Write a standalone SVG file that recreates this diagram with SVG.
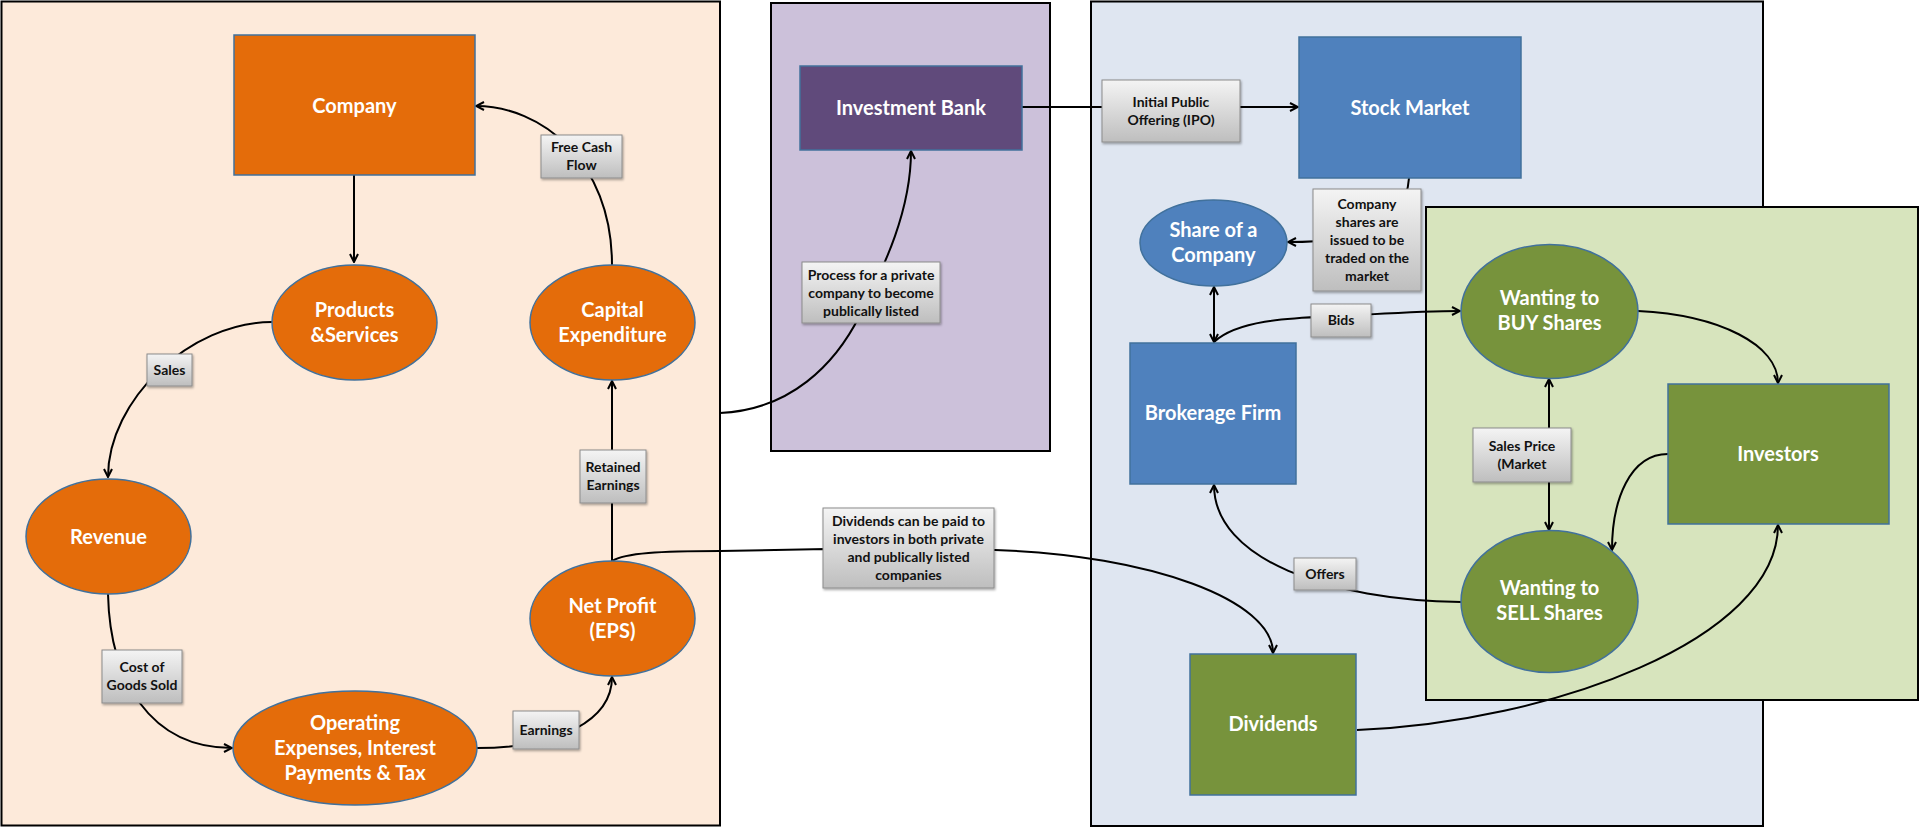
<svg xmlns="http://www.w3.org/2000/svg" width="1920" height="827" viewBox="0 0 1920 827">
<defs>
<style>
.panel{stroke:#000;stroke-width:2}
.node{stroke:#41719C;stroke-width:1.5}
.org{fill:#E46C0A}
.blu{fill:#4F81BD}
.grn{fill:#77933C}
.pur{fill:#604A7B}
.nt{font-family:Lato,"Open Sans",sans-serif;font-weight:bold;font-size:20px;fill:#fff;text-anchor:middle}
.lbl{fill:url(#lg);stroke:#8C8C8C;stroke-width:1;filter:url(#sh)}
.lt{font-family:Lato,"Open Sans",sans-serif;font-weight:bold;font-size:14px;fill:#111;text-anchor:middle}
.c{fill:none;stroke:#000;stroke-width:2}
</style>
<linearGradient id="lg" x1="0" y1="0" x2="0" y2="1">
<stop offset="0" stop-color="#F4F4F4"/>
<stop offset="1" stop-color="#BEBEBE"/>
</linearGradient>
<filter id="sh" x="-10%" y="-10%" width="130%" height="140%">
<feDropShadow dx="1" dy="1.5" stdDeviation="1" flood-color="#000" flood-opacity="0.35"/>
</filter>
<marker id="a" viewBox="0 0 10 10" refX="9" refY="5" markerWidth="10" markerHeight="10" markerUnits="userSpaceOnUse" orient="auto-start-reverse">
<path d="M1,1 L9,5 L1,9" fill="none" stroke="#000" stroke-width="2"/>
</marker>
</defs>

<g id="panels">
<rect class="panel" x="1.5" y="1.5" width="718.5" height="824" fill="#FDEADA"/>
<rect class="panel" x="771" y="3" width="279" height="448" fill="#CCC1DA"/>
<rect class="panel" x="1091" y="1.5" width="672" height="824.5" fill="#DFE6F1"/>
<rect class="panel" x="1426" y="207" width="492" height="493" fill="#D7E4BD"/>
</g>

<g id="connectors">
<path class="c" d="M354,175 L354,262" marker-end="url(#a)"/>
<path class="c" d="M272,322 C190,322 108,400 108,477" marker-end="url(#a)"/>
<path class="c" d="M108,594 C110,680 150,748 232,748" marker-end="url(#a)"/>
<path class="c" d="M477,748 C560,748 612,720 612,677" marker-end="url(#a)"/>
<path class="c" d="M612,561 L612,381" marker-end="url(#a)"/>
<path class="c" d="M612,265 C612,160 540,106 476,106" marker-end="url(#a)"/>
<path class="c" d="M612,561 C625,553 660,551 720,551 L826,549 L995,550 C1150,555 1273,600 1273,653" marker-end="url(#a)"/>
<path class="c" d="M720,413 C790,410 835,365 860,315 C885,265 911,210 911,151" marker-end="url(#a)"/>
<path class="c" d="M1022,107 L1298,107" marker-end="url(#a)"/>
<path class="c" d="M1409,178 C1405,230 1360,242 1288,242" marker-end="url(#a)"/>
<path class="c" d="M1214,287 L1214,342" marker-start="url(#a)" marker-end="url(#a)"/>
<path class="c" d="M1214,342 C1240,318 1300,318 1340,316 C1380,314 1420,311 1460,311" marker-end="url(#a)"/>
<path class="c" d="M1549,379 L1549,530" marker-start="url(#a)" marker-end="url(#a)"/>
<path class="c" d="M1638,311 C1720,315 1778,345 1778,383" marker-end="url(#a)"/>
<path class="c" d="M1668,454 C1630,454 1612,500 1612,550" marker-end="url(#a)"/>
<path class="c" d="M1461,602 C1330,600 1214,560 1214,485" marker-end="url(#a)"/>
<path class="c" d="M1357,730 C1550,722 1778,640 1778,525" marker-end="url(#a)"/>
</g>

<g id="company"><rect class="node org" x="234" y="35" width="241" height="140"/><text class="nt" x="354.5" y="113">Company</text></g>
<g id="products"><ellipse class="node org" cx="354.5" cy="322.5" rx="82.5" ry="57.5"/><text class="nt" x="354.5" y="317">Products</text><text class="nt" x="354.5" y="342">&amp;Services</text></g>
<g id="capex"><ellipse class="node org" cx="612.5" cy="322.5" rx="82.5" ry="57.5"/><text class="nt" x="612.5" y="317">Capital</text><text class="nt" x="612.5" y="342">Expenditure</text></g>
<g id="revenue"><ellipse class="node org" cx="108.5" cy="536.5" rx="82.5" ry="57.5"/><text class="nt" x="108.5" y="544">Revenue</text></g>
<g id="opex"><ellipse class="node org" cx="355" cy="748" rx="122" ry="57"/><text class="nt" x="355" y="730">Operating</text><text class="nt" x="355" y="755">Expenses, Interest</text><text class="nt" x="355" y="780">Payments &amp; Tax</text></g>
<g id="netprofit"><ellipse class="node org" cx="612.5" cy="618.5" rx="82.5" ry="57.5"/><text class="nt" x="612.5" y="613">Net Profit</text><text class="nt" x="612.5" y="638">(EPS)</text></g>
<g id="investmentbank"><rect class="node pur" x="800" y="66" width="222" height="84"/><text class="nt" x="911" y="115">Investment Bank</text></g>
<g id="stockmarket"><rect class="node blu" x="1299" y="37" width="222" height="141"/><text class="nt" x="1410" y="115">Stock Market</text></g>
<g id="share"><ellipse class="node blu" cx="1213.5" cy="243" rx="73.5" ry="43"/><text class="nt" x="1213.5" y="237">Share of a</text><text class="nt" x="1213.5" y="262">Company</text></g>
<g id="brokerage"><rect class="node blu" x="1130" y="343" width="166" height="141"/><text class="nt" x="1213" y="420">Brokerage Firm</text></g>
<g id="dividends"><rect class="node grn" x="1190" y="654" width="166" height="141"/><text class="nt" x="1273" y="731">Dividends</text></g>
<g id="buy"><ellipse class="node grn" cx="1549.5" cy="311.5" rx="88.5" ry="67"/><text class="nt" x="1549.5" y="305">Wanting to</text><text class="nt" x="1549.5" y="330">BUY Shares</text></g>
<g id="sell"><ellipse class="node grn" cx="1549.5" cy="601.5" rx="88.5" ry="71"/><text class="nt" x="1549.5" y="595">Wanting to</text><text class="nt" x="1549.5" y="620">SELL Shares</text></g>
<g id="investors"><rect class="node grn" x="1668" y="384" width="221" height="140"/><text class="nt" x="1778" y="461">Investors</text></g>

<g id="labels">
<g id="lbl-fcf"><rect class="lbl" x="541" y="135" width="81" height="43"/><text class="lt" x="581.5" y="152">Free Cash</text><text class="lt" x="581.5" y="170">Flow</text></g>
<g id="lbl-sales"><rect class="lbl" x="147" y="354" width="45" height="32"/><text class="lt" x="169.5" y="375">Sales</text></g>
<g id="lbl-cogs"><rect class="lbl" x="102" y="650" width="80" height="53"/><text class="lt" x="142" y="672">Cost of</text><text class="lt" x="142" y="690">Goods Sold</text></g>
<g id="lbl-earnings"><rect class="lbl" x="513" y="711" width="66" height="38"/><text class="lt" x="546" y="735">Earnings</text></g>
<g id="lbl-retained"><rect class="lbl" x="580" y="450" width="66" height="53"/><text class="lt" x="613" y="472">Retained</text><text class="lt" x="613" y="490">Earnings</text></g>
<g id="lbl-process"><rect class="lbl" x="802" y="262" width="138" height="61"/><text class="lt" x="871" y="280">Process for a private</text><text class="lt" x="871" y="298">company to become</text><text class="lt" x="871" y="316">publically listed</text></g>
<g id="lbl-divpaid"><rect class="lbl" x="823" y="508" width="171" height="80"/><text class="lt" x="908.5" y="526">Dividends can be paid to</text><text class="lt" x="908.5" y="544">investors in both private</text><text class="lt" x="908.5" y="562">and publically listed</text><text class="lt" x="908.5" y="580">companies</text></g>
<g id="lbl-ipo"><rect class="lbl" x="1102" y="80" width="138" height="62"/><text class="lt" x="1171" y="107">Initial Public</text><text class="lt" x="1171" y="125">Offering (IPO)</text></g>
<g id="lbl-issued"><rect class="lbl" x="1313" y="189" width="108" height="102"/><text class="lt" x="1367" y="209">Company</text><text class="lt" x="1367" y="227">shares are</text><text class="lt" x="1367" y="245">issued to be</text><text class="lt" x="1367" y="263">traded on the</text><text class="lt" x="1367" y="281">market</text></g>
<g id="lbl-bids"><rect class="lbl" x="1311" y="304" width="60" height="33"/><text class="lt" x="1341" y="325">Bids</text></g>
<g id="lbl-salesprice"><rect class="lbl" x="1473" y="428" width="98" height="54"/><text class="lt" x="1522" y="451">Sales Price</text><text class="lt" x="1522" y="469">(Market</text></g>
<g id="lbl-offers"><rect class="lbl" x="1294" y="558" width="62" height="32"/><text class="lt" x="1325" y="579">Offers</text></g>
</g>
</svg>
